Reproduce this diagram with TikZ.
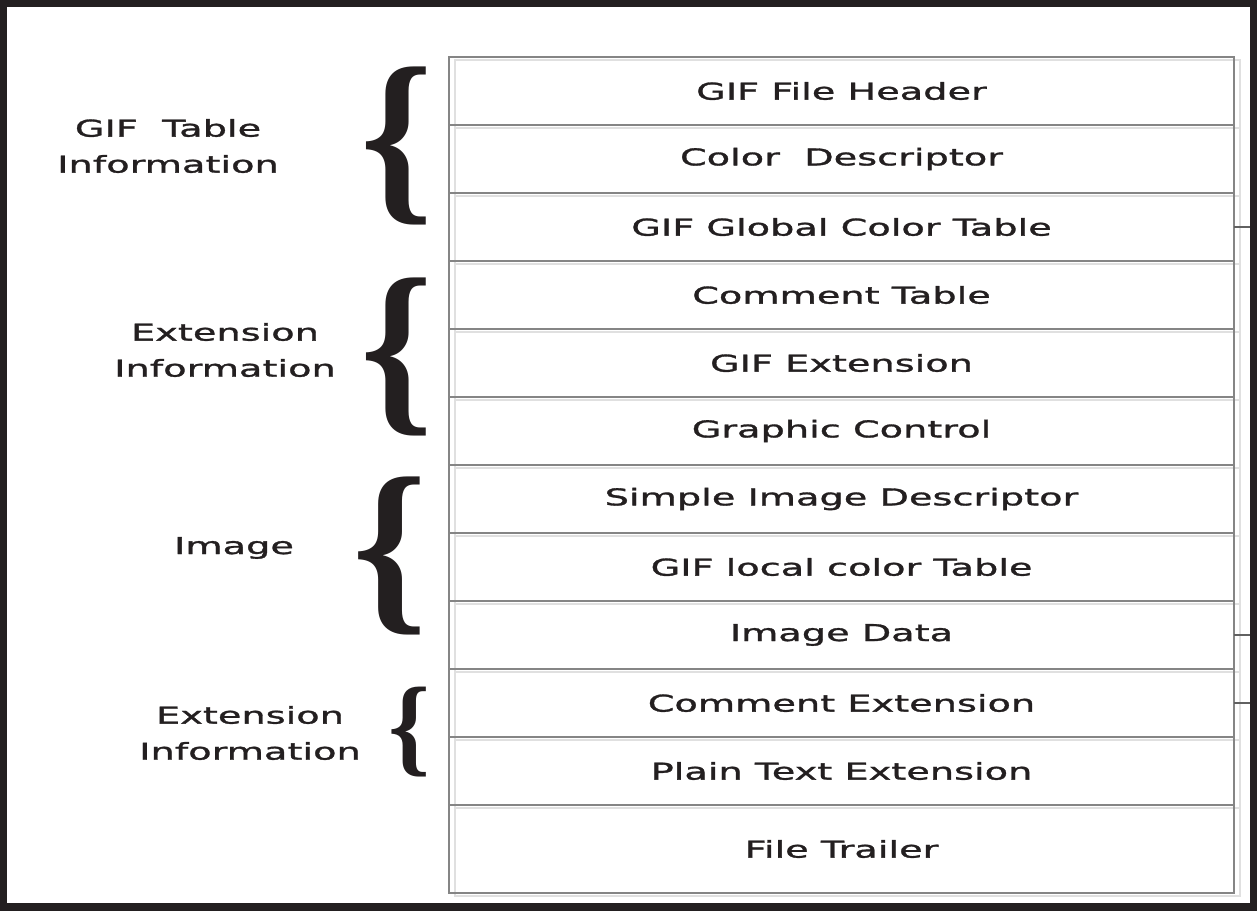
\documentclass[tikz,border=0pt]{standalone}
\usepackage{fontspec}
\usepackage{graphicx}
\newfontfamily\giffont[FakeStretch=1.65, FakeBold=1.3]{DejaVu Sans}
\newfontfamily\bracefont{Liberation Serif Bold}
\definecolor{inkcol}{HTML}{231F20}
\tikzset{
    rowbox/.style={draw=black!48, line width=0.8pt, inner sep=0pt, outer sep=0pt,
        minimum width=446.7pt, minimum height=38.7pt, text=inkcol,
        font=\giffont\fontsize{13.2}{20.5}\selectfont,
        preaction={draw=black!12, line width=0.8pt, transform canvas={shift={(3.4pt,-1.7pt)}}}},
    grouplabel/.style={align=center, text=inkcol, inner sep=0pt,
        font=\giffont\fontsize{13.2}{20.5}\selectfont},
    bracenode/.style={inner sep=0pt, text=inkcol, font=\bracefont},
    tick/.style={draw=black!62, line width=0.6pt}
}
\begin{document}
\begin{tikzpicture}[x=0.02cm, y=-0.02cm]
    % Frame
    \fill[inkcol] (0,0) rectangle (1257,911);
    \fill[white] (7,7) rectangle (1250,903);

    % Rows of the file layout
    \node[rowbox] (hdr) at (841.5, 91) {GIF File Header};
    \node[rowbox] (cdesc) at (841.5, 159) {Color~~Descriptor};
    \node[rowbox] (gct) at (841.5, 227) {GIF Global Color Table};
    \node[rowbox] (ctab) at (841.5, 295) {Comment Table};
    \node[rowbox] (gext) at (841.5, 363) {GIF Extension};
    \node[rowbox] (gctl) at (841.5, 431) {Graphic Control};
    \node[rowbox] (sid) at (841.5, 499) {Simple Image Descriptor};
    \node[rowbox] (lct) at (841.5, 567) {GIF local color Table};
    \node[rowbox] (idata) at (841.5, 635) {Image Data};
    \node[rowbox] (cext) at (841.5, 703) {Comment Extension};
    \node[rowbox] (ptext) at (841.5, 771) {Plain Text Extension};
    \node[rowbox, minimum height=50.1pt] (trail) at (841.5, 849) {File Trailer};

    % Braces
    \node[bracenode] (br1) at (396.5, 146) {\resizebox*{41.5pt}{90pt}{\{}};
    \node[bracenode] (br2) at (396.5, 357) {\resizebox*{41.5pt}{90pt}{\{}};
    \node[bracenode] (br3) at (390.5, 556) {\resizebox*{42.7pt}{90pt}{\{}};
    \node[bracenode] (br4) at (409, 732) {\resizebox*{23.9pt}{51.2pt}{\{}};

    % Group labels
    \node[grouplabel] (gtinfo) at (168, 146) {GIF~~Table\\Information};
    \node[grouplabel] (extinfo1) at (225, 350) {Extension\\Information};
    \node[grouplabel] (imglbl) at (234, 548) {Image};
    \node[grouplabel] (extinfo2) at (250, 733) {Extension\\Information};

    % Ticks to the frame
    \coordinate (t1) at (1250, 227);
    \coordinate (t2) at (1250, 635);
    \coordinate (t3) at (1250, 703);
    \draw[tick] (gct.east) -- (t1);
    \draw[tick] (idata.east) -- (t2);
    \draw[tick] (cext.east) -- (t3);
\end{tikzpicture}
\end{document}
